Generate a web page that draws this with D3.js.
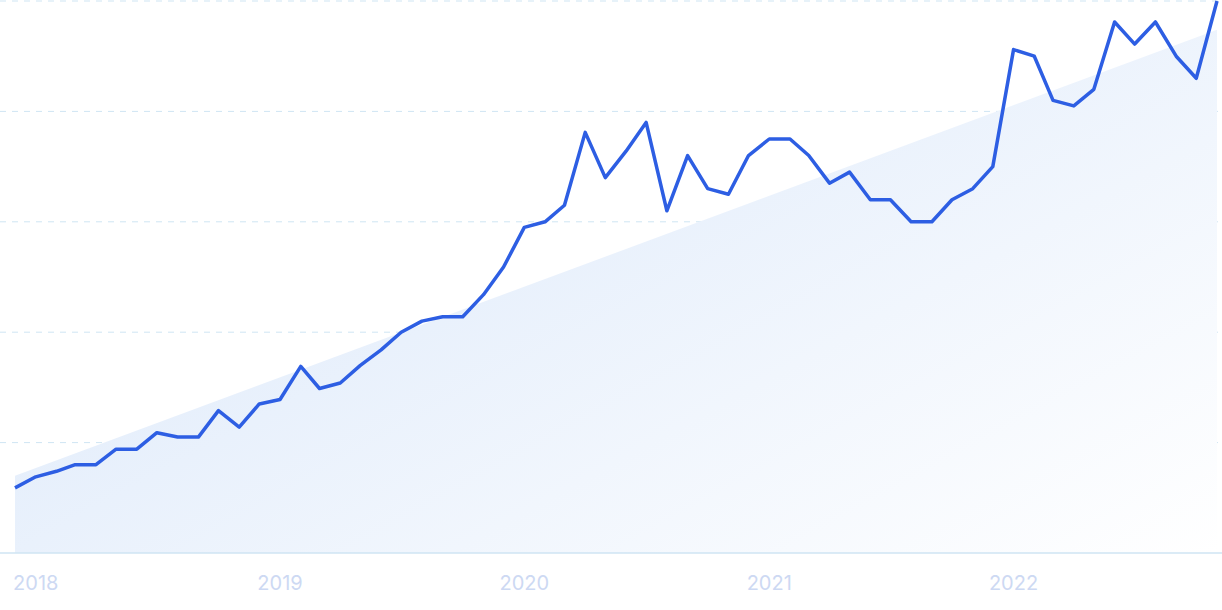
<!DOCTYPE html>
<html><head><meta charset="utf-8">
<script src="https://cdn.jsdelivr.net/npm/d3@7/dist/d3.min.js"></script>
<style>body{margin:0;background:#fff}svg{display:block}</style>
</head><body><svg id="c" width="1222" height="610"></svg>
<script>
const startDate = "2017-12-01";
const values = [0.59,0.69,0.74,0.80,0.80,0.94,0.94,1.09,1.05,1.05,1.29,1.14,1.35,1.39,1.69,1.49,1.54,1.70,1.84,2.00,2.10,2.14,2.14,2.34,2.59,2.95,3.00,3.15,3.81,3.40,3.64,3.90,3.10,3.60,3.30,3.25,3.60,3.75,3.75,3.60,3.35,3.45,3.20,3.20,3.00,3.00,3.20,3.30,3.50,4.56,4.50,4.10,4.05,4.20,4.81,4.61,4.81,4.50,4.30,5.00];
const trend = [0.70,4.74];
const yTicks = [0,1,2,3,4,5];
const xTickLabels = ["2018","2019","2020","2021","2022"];

const svg = d3.select("#c");
const parse = d3.timeParse("%Y-%m-%d");
const d0 = parse(startDate);
const data = values.map((v,i)=>({date:d3.timeMonth.offset(d0,i),v}));
const x = d3.scaleTime().domain([data[0].date,data[data.length-1].date]).range([15,1217]);
const y = d3.scaleLinear().domain([0,5]).range([553,1]);

const defs = svg.append("defs");
const g = defs.append("linearGradient").attr("id","gr").attr("x1","0").attr("y1","0.2").attr("x2","1").attr("y2","1");
g.append("stop").attr("offset","0").attr("stop-color","#dbe8fa");
g.append("stop").attr("offset","1").attr("stop-color","#ffffff");

svg.selectAll(".grid").data(yTicks.slice(1)).join("line")
  .attr("x1",0).attr("x2",1222).attr("y1",d=>y(d)).attr("y2",d=>y(d))
  .attr("stroke","#cfe5f3").attr("stroke-dasharray","6,6").attr("stroke-width",1);

const dl = data[data.length-1].date;
svg.append("path").attr("fill","url(#gr)")
  .attr("d",`M${x(data[0].date)},${y(0)}L${x(data[0].date)},${y(trend[0])}L${x(dl)},${y(trend[1])}L${x(dl)},${y(0)}Z`);

svg.append("line").attr("x1",0).attr("x2",1222).attr("y1",y(0)).attr("y2",y(0))
  .attr("stroke","#cfe5f3").attr("stroke-width",1.5);

svg.append("path").datum(data).attr("fill","none").attr("stroke","#2d5ee3")
  .attr("stroke-width",3.5).attr("stroke-linejoin","round")
  .attr("d",d3.line().x(d=>x(d.date)).y(d=>y(d.v)));

svg.selectAll(".xl").data(xTickLabels).join("text")
  .attr("x",d=>x(parse(d+"-01-01"))).attr("y",590).attr("text-anchor","middle")
  .attr("font-family","Inter, sans-serif").attr("font-size",20).attr("fill","#cdd9f3").text(d=>d);
</script></body></html>
